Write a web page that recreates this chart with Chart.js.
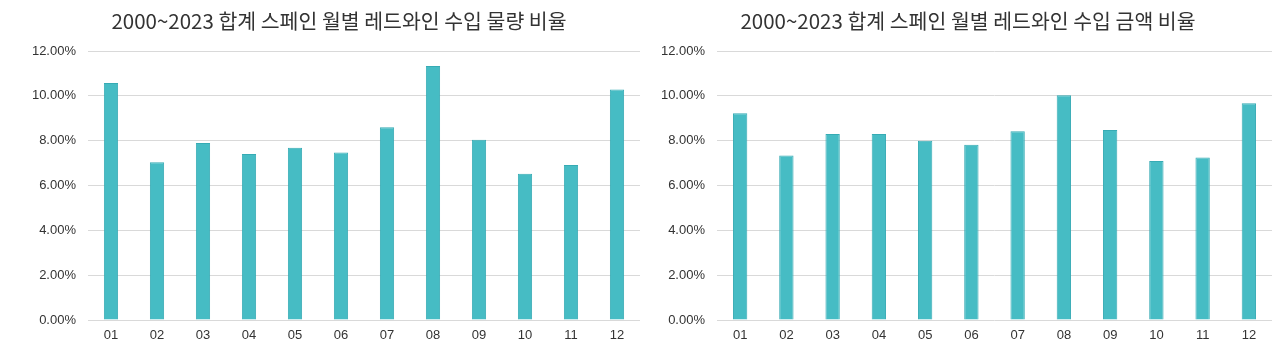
<!DOCTYPE html>
<html>
<head>
<meta charset="utf-8">
<script src="https://cdn.jsdelivr.net/npm/chart.js@4.4.0/dist/chart.umd.min.js"></script>
<style>
  body { margin: 0; background: #fff; }
  .panel { position: absolute; top: 0; width: 640px; height: 349px; }
  .title {
    position: absolute; top: 8px; height: 25px; line-height: 25px;
    text-align: center; white-space: nowrap; color: #333;
    font-family: "Noto Sans CJK KR", "Noto Sans", sans-serif; font-size: 20.5px;
  }
</style>
</head>
<body>
<div class="panel" style="left:0"><canvas id="volume"></canvas></div>
<div class="panel" style="left:640px"><canvas id="amount"></canvas></div>
<div class="title" id="volumeTitle" style="left:0; width:678px"></div>
<div class="title" id="amountTitle" style="left:640px; width:656px"></div>
<script>
const months = ['01', '02', '03', '04', '05', '06', '07', '08', '09', '10', '11', '12'];
// 월별 비율 (%)
const volumeShare = [10.57, 7.04, 7.90, 7.40, 7.68, 7.47, 8.60, 11.33, 8.04, 6.52, 6.92, 10.28];
const amountShare = [9.22, 7.34, 8.30, 8.30, 8.00, 7.82, 8.42, 10.03, 8.48, 7.09, 7.25, 9.67];
const yTicks = [0, 2, 4, 6, 8, 10, 12];

const volumeTitle = '2000~2023 합계 스페인 월별 레드와인 수입 물량 비율';
const amountTitle = '2000~2023 합계 스페인 월별 레드와인 수입 금액 비율';

function createChart(id, values, axisWidth, padRight) {
    var ctx = document.getElementById(id);
    ctx.width = 640;
    ctx.height = 349;
    return new Chart(ctx, {
        type: 'bar',
        data: {
            labels: months,
            datasets: [{
                data: values,
                backgroundColor: '#46bcc4',
                borderColor: '#36abb4',
                borderWidth: 1,
                categoryPercentage: 1,
                barPercentage: 0.31
            }]
        },
        options: {
            responsive: false,
            animation: false,
            layout: { padding: { left: 0, right: padRight, top: 51, bottom: 6 } },
            plugins: {
                legend: { display: false },
                tooltip: { enabled: false }
            },
            scales: {
                x: {
                    grid: { display: false, drawTicks: false },
                    border: { display: false },
                    afterFit: function (scale) { scale.height = 23; },
                    ticks: {
                        color: '#333',
                        font: { family: '"Liberation Sans", Arial', size: 13 },
                        padding: 8
                    }
                },
                y: {
                    min: 0,
                    max: 12,
                    afterBuildTicks: function (scale) {
                        scale.ticks = yTicks.map(function (v) { return { value: v }; });
                    },
                    afterFit: function (scale) { scale.width = axisWidth; },
                    grid: { color: '#d9d9d9', drawTicks: false },
                    border: { display: false },
                    ticks: {
                        color: '#333',
                        font: { family: '"Liberation Sans", Arial', size: 13 },
                        padding: 12,
                        callback: function (v) { return v.toFixed(2) + '%'; }
                    }
                }
            }
        }
    });
}

document.getElementById('volumeTitle').textContent = volumeTitle;
document.getElementById('amountTitle').textContent = amountTitle;

createChart('volume', volumeShare, 88, 0);
createChart('amount', amountShare, 77, 8);
</script>
</body>
</html>
